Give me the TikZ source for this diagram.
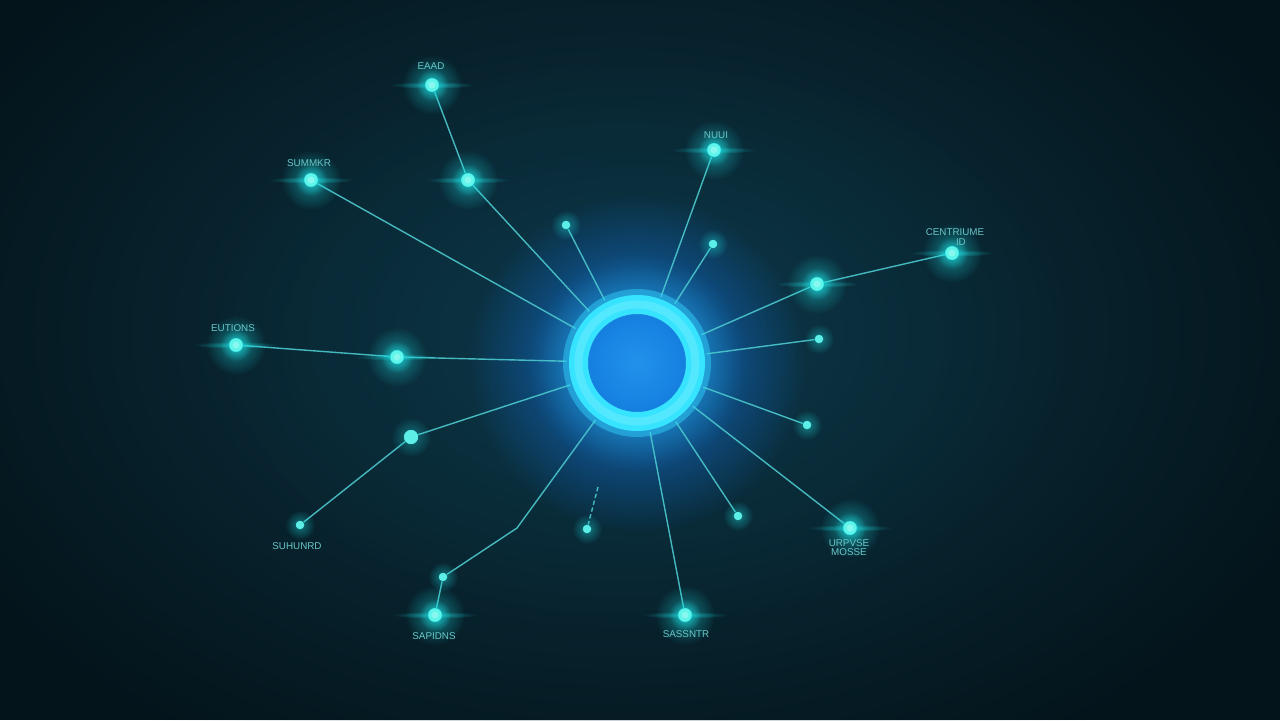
\documentclass[tikz,border=0pt]{standalone}
\usepackage{fontspec}
\setmainfont{Liberation Sans}
\usetikzlibrary{fadings}
\tikzfading[name=glowfade, inner color=transparent!0, outer color=transparent!100]
\definecolor{bgo}{RGB}{4,20,27}
\definecolor{bgi}{RGB}{13,54,70}
\definecolor{bluegl}{RGB}{20,120,235}
\definecolor{bluegl2}{RGB}{40,180,255}
\definecolor{ringc}{RGB}{55,228,255}
\definecolor{diskc}{RGB}{22,128,225}
\definecolor{diskc2}{RGB}{34,146,236}
\definecolor{linec}{RGB}{75,200,205}
\definecolor{dotc}{RGB}{95,245,235}
\definecolor{dotgl}{RGB}{30,225,228}
\definecolor{labc}{RGB}{105,200,200}
\tikzset{
  bigdot/.style={circle, fill=dotc, inner sep=0pt, minimum size=0.28cm},
  middot/.style={circle, fill=dotc!85!linec, inner sep=0pt, minimum size=0.28cm},
  smalldot/.style={circle, fill=dotc!80!linec, inner sep=0pt, minimum size=0.17cm},
  spoke/.style={draw=linec, line width=0.8pt, draw opacity=0.9},
  lab/.style={text=labc, font=\fontsize{5.6}{6.2}\selectfont, inner sep=0pt, align=center},
  hubnode/.style={circle, inner sep=0pt, minimum size=2.8cm}
}
\newcommand\bigglow[1]{%
  \fill[dotgl, fill opacity=0.5, path fading=glowfade] (#1) circle (0.6cm);
  \fill[dotgl, fill opacity=0.75, path fading=glowfade] (#1) circle (0.32cm);
  \fill[dotgl, fill opacity=0.5, path fading=glowfade] (#1) ellipse (0.85cm and 0.07cm);}
\newcommand\smallglow[1]{%
  \fill[dotgl, fill opacity=0.45, path fading=glowfade] (#1) circle (0.3cm);}
\begin{document}
\begin{tikzpicture}[x=0.02cm, y=-0.02cm]
% background
\fill[bgo] (0,0) rectangle (1280,720);
\useasboundingbox (0,0) rectangle (1280,720);
\fill[bgi, path fading=glowfade] (620,330) ellipse (15cm and 10cm);
\fill[bgi, fill opacity=0.6, path fading=glowfade] (640,340) ellipse (9cm and 6cm);
% hub glow
\fill[bluegl, fill opacity=0.85, path fading=glowfade] (637,363) circle (3.4cm);
\fill[bluegl2, fill opacity=0.6, path fading=glowfade] (637,363) circle (2.2cm);
% nodes
\node[hubnode] (hub) at (637,363) {};
\node[bigdot] (a1) at (468,180) {};
\node[bigdot] (a2) at (432,85) {};
\node[bigdot] (b1) at (311,180) {};
\node[smalldot] (c1) at (566,225) {};
\node[bigdot] (d1) at (714,150) {};
\node[smalldot] (e1) at (713,244) {};
\node[bigdot] (f1) at (817,284) {};
\node[bigdot] (f2) at (952,253) {};
\node[smalldot] (g1) at (819,339) {};
\node[smalldot] (h1) at (807,425) {};
\node[bigdot] (i1) at (850,528) {};
\node[smalldot] (j1) at (738,516) {};
\node[bigdot] (k1) at (685,615) {};
\coordinate (l0) at (598,487);
\node[smalldot] (l1) at (587,529) {};
\coordinate (mb) at (517,528);
\node[smalldot] (m1) at (443,577) {};
\node[bigdot] (m2) at (435,615) {};
\node[middot] (n1) at (411,437) {};
\node[smalldot] (n2) at (300,525) {};
\node[bigdot] (o1) at (397,357) {};
\node[bigdot] (o2) at (236,345) {};
% connectors
\draw[spoke] (hub) -- (a1) -- (a2);
\draw[spoke] (hub) -- (b1);
\draw[spoke] (hub) -- (c1);
\draw[spoke] (hub) -- (d1);
\draw[spoke] (hub) -- (e1);
\draw[spoke] (hub) -- (f1) -- (f2);
\draw[spoke] (hub) -- (g1);
\draw[spoke] (hub) -- (h1);
\draw[spoke] (hub) -- (i1);
\draw[spoke] (hub) -- (j1);
\draw[spoke] (hub) -- (k1);
\draw[spoke, dashed, dash pattern=on 2.5pt off 1.5pt] (l0) -- (l1);
\draw[spoke] (hub) -- (mb) -- (m1) -- (m2);
\draw[spoke] (hub) -- (n1) -- (n2);
\draw[spoke] (hub) -- (o1) -- (o2);
% glows
\bigglow{a1}\bigglow{a2}\bigglow{b1}\bigglow{d1}\bigglow{f1}\bigglow{f2}
\bigglow{i1}\bigglow{k1}\bigglow{m2}\bigglow{o1}\bigglow{o2}
\smallglow{c1}\smallglow{e1}\smallglow{g1}\smallglow{h1}\smallglow{j1}
\smallglow{l1}\smallglow{m1}\smallglow{n2}
\fill[dotgl, fill opacity=0.4, path fading=glowfade] (n1) circle (0.4cm);
% redraw dots on top of glows
\foreach \d in {a1,a2,b1,d1,f1,f2,i1,k1,m2,o1,o2}{\fill[dotc] (\d) circle (0.13cm); \fill[white, fill opacity=0.25] (\d) circle (0.07cm);}
\foreach \d in {c1,e1,g1,h1,j1,l1,m1,n2}{\fill[dotc!85!linec] (\d) circle (0.08cm);}
\fill[dotc!85!linec] (n1) circle (0.14cm);
% ring
\fill[ringc, fill opacity=0.35, path fading=glowfade] (hub.center) circle (2.0cm);
\draw[ringc!70!bluegl2, line width=0.62cm, draw opacity=0.45] (hub.center) circle (1.17cm);
\fill[diskc] (hub.center) circle (0.99cm);
\fill[diskc2, path fading=glowfade] (hub.center) circle (0.95cm);
\draw[ringc, line width=0.38cm] (hub.center) circle (1.17cm);
\draw[white, line width=0.16cm, draw opacity=0.15] (hub.center) circle (1.17cm);
% labels
\node[lab] (ta2) at (431,66) {EAAD};
\node[lab] (tb1) at (309,163) {SUMMKR};
\node[lab] (td1) at (716,135) {NUUI};
\node[lab] (tf2) at (955,237) {CENTRIUME\\[-1pt]\hspace*{1.2em}ID};
\node[lab] (ti1) at (849,548) {URPVSE\\[-1pt]MOSSE};
\node[lab] (tk1) at (686,634) {SASSNTR};
\node[lab] (tm2) at (434,636) {SAPIDNS};
\node[lab] (tn2) at (297,546) {SUHUNRD};
\node[lab] (to2) at (233,328) {EUTIONS};
\end{tikzpicture}
\end{document}
